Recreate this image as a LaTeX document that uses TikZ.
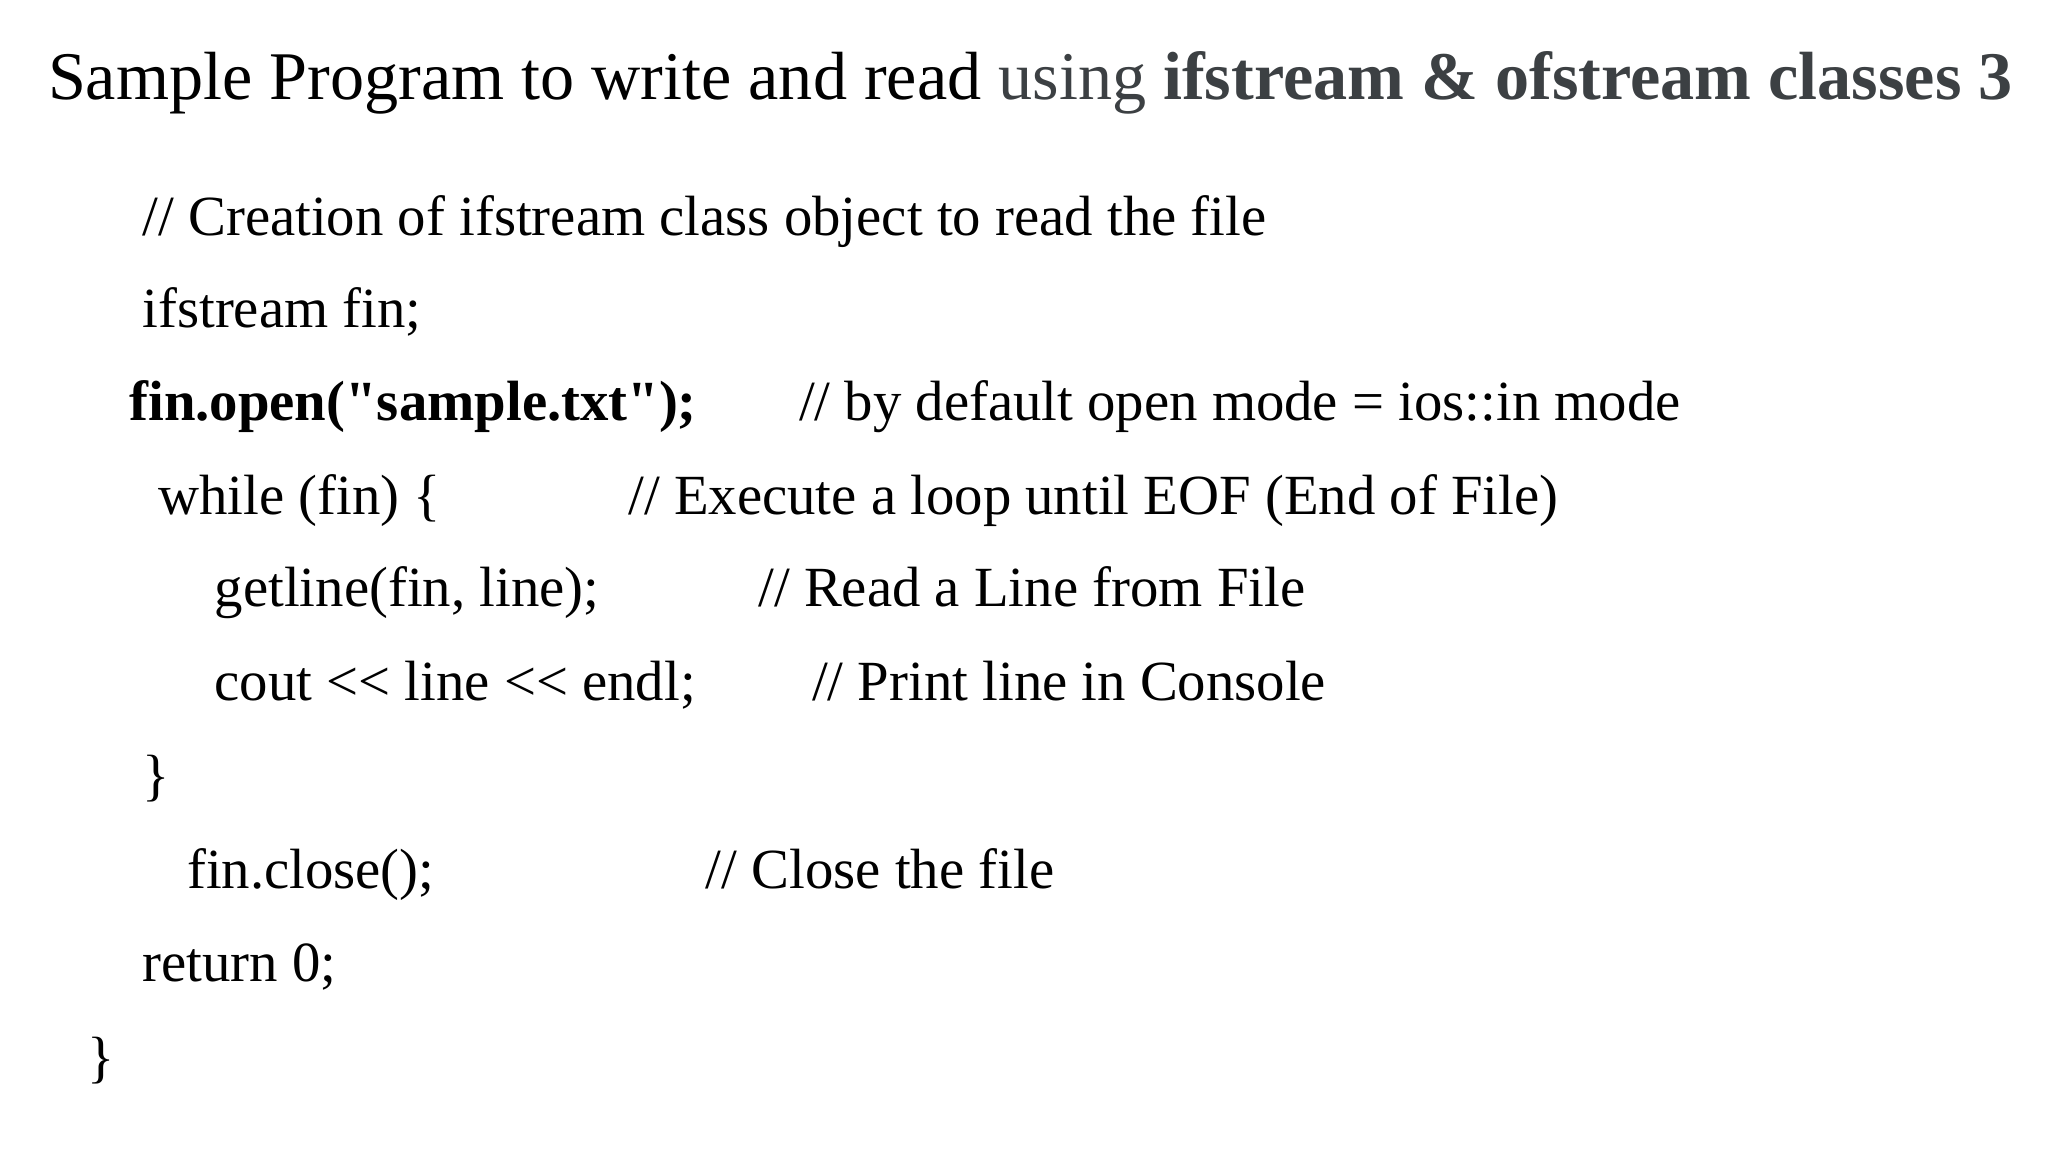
\documentclass[tikz,border=0pt]{standalone}
\usepackage{fontspec}
\setmainfont{Liberation Serif}
\newfontfamily\plainserif{Liberation Serif}
\definecolor{titlegray}{HTML}{3C4043}
\begin{document}
\begin{tikzpicture}[x=1cm,y=-1cm,
  code/.style={anchor=base west,inner sep=0pt,font=\fontsize{16.15}{19}\selectfont}]
\useasboundingbox (0,0) rectangle (20.48,11.52);
\node[anchor=base west,inner sep=0pt,font=\fontsize{19.4}{23}\selectfont] (title) at (0.473,1.0)
  {Sample Program to write and read \textcolor{titlegray}{using \textbf{ifstream \& ofstream classes 3}}};
\node[code] (l1) at (1.418,2.36) {// Creation of ifstream class object to read the file};
\node[code] (l2) at (1.418,3.28) {ifstream fin;};
\node[code] (l3) at (1.287,4.21) {\plainserif\bfseries fin.open("sample.txt");};
\node[code] (c3) at (7.983,4.21) {// by default open mode = ios::in mode};
\node[code] (l4) at (1.576,5.14) {while (fin) \{};
\node[code] (c4) at (6.276,5.14) {// Execute a loop until EOF (End of File)};
\node[code] (l5) at (2.140,6.07) {getline(fin, line);};
\node[code] (c5) at (7.576,6.07) {// Read a Line from File};
\node[code] (l6) at (2.140,7.0) {cout {<}{<} line {<}{<} endl;};
\node[code] (c6) at (8.114,7.0) {// Print line in Console};
\node[code] (l7) at (1.418,7.95) {\}};
\node[code] (l8) at (1.864,8.88) {fin.close();};
\node[code] (c8) at (7.051,8.88) {// Close the file};
\node[code] (l9) at (1.418,9.815) {return 0;};
\node[code] (l10) at (0.867,10.76) {\}};
\end{tikzpicture}
\end{document}
